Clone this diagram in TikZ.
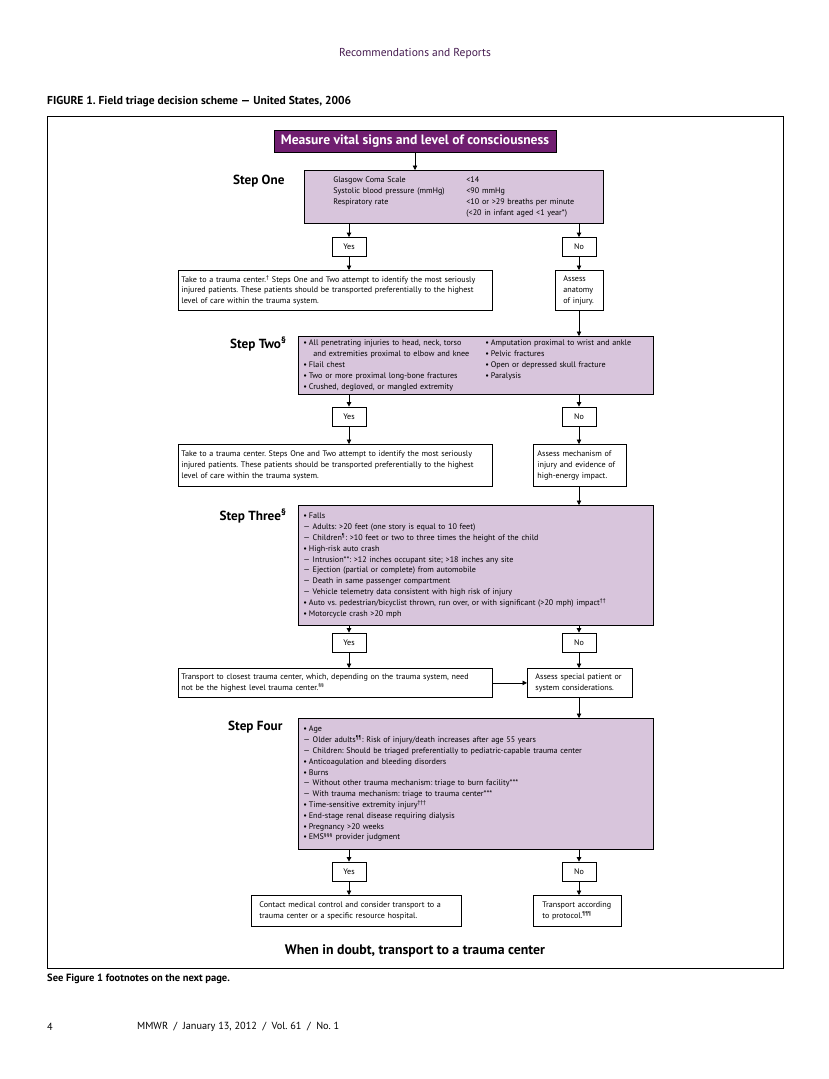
\documentclass[tikz,border=0pt]{standalone}
\usepackage{fontspec}
\setmainfont{PT Sans}
\usetikzlibrary{arrows.meta}
\definecolor{hdr}{RGB}{112,30,112}
\definecolor{pfill}{RGB}{216,197,220}
\definecolor{toptxt}{RGB}{70,28,80}
\newcommand{\bul}{\makebox[5.5pt][l]{•}}
\newcommand{\sps}[1]{\textsuperscript{#1}}
\frenchspacing
\begin{document}
\begin{tikzpicture}[x=1pt,y=-1pt,
 every node/.style={font=\fontsize{8.1}{10.8}\selectfont},
 box/.style={draw=black, line width=0.8pt, fill=white, anchor=north west, inner ysep=0pt, align=left},
 pbox/.style={box, fill=pfill},
 yn/.style={draw=black, line width=0.8pt, fill=white, minimum width=34pt, minimum height=19pt, inner sep=0pt},
 arr/.style={-{Triangle[length=4.5pt,width=4.5pt]}, line width=0.8pt},
 steplbl/.style={anchor=east, font=\fontsize{13.2}{15}\selectfont\bfseries},
]
\useasboundingbox (0,0) rectangle (828,1079);
\fill[white] (0,0) rectangle (828,1079);

% page texts
\node[text=toptxt, font=\fontsize{11.5}{13}\selectfont] (toptitle) at (415,54) {Recommendations and Reports};
\node[anchor=west, inner sep=0pt, font=\fontsize{11.5}{13}\selectfont\bfseries] (figcap) at (47,102) {FIGURE 1. Field triage decision scheme — United States, 2006};
\draw[line width=0.8pt] (47,116) rectangle (783,968);
\node[anchor=west, inner sep=0pt, font=\fontsize{10.5}{12}\selectfont\bfseries] (seefn) at (47,979) {See Figure 1 footnotes on the next page.};
\node[anchor=west, inner sep=0pt, font=\fontsize{10.3}{12}\selectfont] (pgno) at (47,1027) {4};
\node[anchor=west, inner sep=0pt, font=\fontsize{10.3}{12}\selectfont] (journal) at (137,1027) {MMWR \ / \ January 13, 2012 \ / \ Vol. 61 \ / \ No. 1};

% header
\node[draw=black, line width=0.8pt, fill=hdr, text=white, minimum width=282pt, minimum height=22pt, inner sep=0pt,
 font=\fontsize{13.6}{15}\selectfont\bfseries] (hdr) at (415,141) {Measure vital signs and level of consciousness};

% Step One
\node[steplbl] (l1) at (288,181) {Step One};
\node[pbox, inner xsep=29pt, text width=241pt, minimum width=299pt, minimum height=53pt] (s1) at (304,170)
{\makebox[133pt][l]{Glasgow Coma Scale}<14\\
\makebox[133pt][l]{Systolic blood pressure (mmHg)}<90 mmHg\\
\makebox[133pt][l]{Respiratory rate}<10 or >29 breaths per minute\\
\makebox[133pt][l]{}(<20 in infant aged <1 year*)};
\node[yn] (y1) at (349,247) {Yes};
\node[yn] (n1) at (579,247) {No};
\node[box, inner xsep=3pt, text width=308pt, minimum height=40pt] (t1) at (178,270)
{Take to a trauma center.\sps{†} Steps One and Two attempt to identify the most seriously\\
injured patients. These patients should be transported preferentially to the highest\\
level of care within the trauma system.};
\node[box, inner xsep=8pt, text width=32pt, minimum height=40pt] (a1) at (555,270)
{Assess\\anatomy\\of injury.};

% Step Two
\node[steplbl] (l2) at (290,344) {Step Two\sps{§}};
\node[pbox, inner xsep=5pt, text width=345pt, minimum height=58pt] (s2) at (298,336)
{\makebox[182pt][l]{\bul All penetrating injuries to head, neck, torso}\bul Amputation proximal to wrist and ankle\\
\makebox[182pt][l]{\hspace*{10pt}and extremities proximal to elbow and knee}\bul Pelvic fractures\\
\makebox[182pt][l]{\bul Flail chest}\bul Open or depressed skull fracture\\
\makebox[182pt][l]{\bul Two or more proximal long-bone fractures}\bul Paralysis\\
\bul Crushed, degloved, or mangled extremity};
\node[yn] (y2) at (349,416.5) {Yes};
\node[yn] (n2) at (579,416.5) {No};
\node[box, inner xsep=3pt, text width=308pt, minimum height=42pt] (t2) at (178,444)
{Take to a trauma center. Steps One and Two attempt to identify the most seriously\\
injured patients. These patients should be transported preferentially to the highest\\
level of care within the trauma system.};
\node[box, inner xsep=4pt, text width=85pt, minimum height=42pt] (a2) at (533,444)
{Assess mechanism of\\injury and evidence of\\high-energy impact.};

% Step Three
\node[steplbl] (l3) at (290,516) {Step Three\sps{§}};
\node[pbox, inner xsep=5pt, text width=345pt, minimum height=120pt] (s3) at (298,505)
{\bul Falls\\
— Adults: >20 feet (one story is equal to 10 feet)\\
— Children\sps{¶}: >10 feet or two to three times the height of the child\\
\bul High-risk auto crash\\
— Intrusion**: >12 inches occupant site; >18 inches any site\\
— Ejection (partial or complete) from automobile\\
— Death in same passenger compartment\\
— Vehicle telemetry data consistent with high risk of injury\\
\bul Auto vs. pedestrian/bicyclist thrown, run over, or with significant (>20 mph) impact\sps{††}\\
\bul Motorcycle crash >20 mph};
\node[yn] (y3) at (349,642.5) {Yes};
\node[yn] (n3) at (579,642.5) {No};
\node[box, inner xsep=3pt, text width=308pt, minimum height=29pt] (t3) at (178,668)
{Transport to closest trauma center, which, depending on the trauma system, need\\
not be the highest level trauma center.\sps{§§}};
\node[box, inner xsep=8pt, text width=89pt, minimum height=29pt] (a3) at (527,668)
{Assess special patient or\\system considerations.};

% Step Four
\node[steplbl] (l4) at (286,727) {Step Four};
\node[pbox, inner xsep=5pt, text width=345pt, minimum height=131pt] (s4) at (298,718)
{\bul Age\\
— Older adults\sps{¶¶}: Risk of injury/death increases after age 55 years\\
— Children: Should be triaged preferentially to pediatric-capable trauma center\\
\bul Anticoagulation and bleeding disorders\\
\bul Burns\\
— Without other trauma mechanism: triage to burn facility***\\
— With trauma mechanism: triage to trauma center***\\
\bul Time-sensitive extremity injury\sps{†††}\\
\bul End-stage renal disease requiring dialysis\\
\bul Pregnancy >20 weeks\\
\bul EMS\sps{§§§} provider judgment};
\node[yn] (y4) at (349,871.5) {Yes};
\node[yn] (n4) at (579,871.5) {No};
\node[box, inner xsep=8pt, text width=194pt, minimum height=31pt] (c4) at (251,895)
{Contact medical control and consider transport to a\\trauma center or a specific resource hospital.};
\node[box, inner xsep=9pt, text width=70pt, minimum height=31pt] (p4) at (533,895)
{Transport according\\to protocol.\sps{¶¶¶}};

\node[font=\fontsize{13.8}{15}\selectfont\bfseries] (doubt) at (415,951) {When in doubt, transport to a trauma center};

% connectors
\draw[arr] (hdr.south) -- (hdr.south |- s1.north);
\draw[arr] (y1.north |- s1.south) -- (y1.north);
\draw[arr] (n1.north |- s1.south) -- (n1.north);
\draw[arr] (y1.south) -- (y1.south |- t1.north);
\draw[arr] (n1.south) -- (n1.south |- a1.north);
\draw[arr] (n1.south |- a1.south) -- (n1.south |- s2.north);
\draw[arr] (y2.north |- s2.south) -- (y2.north);
\draw[arr] (n2.north |- s2.south) -- (n2.north);
\draw[arr] (y2.south) -- (y2.south |- t2.north);
\draw[arr] (n2.south) -- (n2.south |- a2.north);
\draw[arr] (n2.south |- a2.south) -- (n2.south |- s3.north);
\draw[arr] (y3.north |- s3.south) -- (y3.north);
\draw[arr] (n3.north |- s3.south) -- (n3.north);
\draw[arr] (y3.south) -- (y3.south |- t3.north);
\draw[arr] (n3.south) -- (n3.south |- a3.north);
\draw[arr] (t3.east) -- (t3.east -| a3.west);
\draw[arr] (n3.south |- a3.south) -- (n3.south |- s4.north);
\draw[arr] (y4.north |- s4.south) -- (y4.north);
\draw[arr] (n4.north |- s4.south) -- (n4.north);
\draw[arr] (y4.south) -- (y4.south |- c4.north);
\draw[arr] (n4.south) -- (n4.south |- p4.north);
\end{tikzpicture}
\end{document}
